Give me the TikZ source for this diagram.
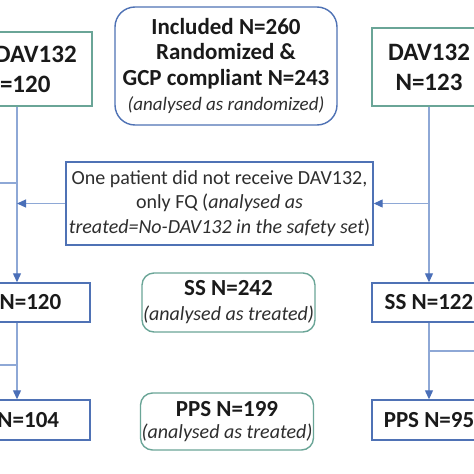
\documentclass[tikz,border=0pt]{standalone}
\usepackage{fontspec}
\setmainfont{Carlito}
\usetikzlibrary{arrows.meta}
\definecolor{bboxc}{HTML}{4F72B5}
\definecolor{gboxc}{HTML}{6AA597}
\definecolor{clinec}{HTML}{8EA8D6}
\definecolor{aheadc}{HTML}{4A6FB8}
\definecolor{txtc}{HTML}{1A1A1A}
\definecolor{itxc}{HTML}{2E2E2E}
\tikzset{
  boxb/.style={draw=bboxc, line width=1.4pt, fill=white, align=center, text=txtc, inner sep=1pt},
  boxg/.style={draw=gboxc, line width=1.4pt, fill=white, align=center, text=txtc, inner sep=1pt},
  conn/.style={draw=clinec, line width=1.2pt},
  arr/.style={conn, -{Triangle[width=8pt,length=9pt,color=aheadc]}},
  bigtxt/.style={font=\bfseries\fontsize{25}{30}\selectfont},
  midtxt/.style={font=\bfseries\fontsize{23}{26}\selectfont},
}
\begin{document}
\begin{tikzpicture}[x=1pt,y=-1pt]
\useasboundingbox (0,0) rectangle (474,474);
\clip (0,0) rectangle (474,474);
\fill[white] (0,0) rectangle (474,474);

% top row
\node[boxg, bigtxt, minimum width=150, minimum height=74] (ltop) at (17,69) {No-DAV132\\N=120};
\node[boxg, bigtxt, minimum width=114, minimum height=78] (rtop) at (429,67) {DAV132\\N=123};
\node[boxb, rounded corners=20, minimum width=222, minimum height=118,
      font=\fontsize{23}{25.5}\selectfont] (inc) at (226,66)
  {\textbf{Included N=260}\\\textbf{Randomized \&}\\\textbf{GCP compliant N=243}\\
   {\color{itxc}\fontsize{19}{25.5}\selectfont\itshape(analysed as randomized)}};

% note
\node[boxb, minimum width=307, minimum height=83, font=\fontsize{20}{24.5}\selectfont,
      text=itxc] (note) at (219.5,203.5)
  {One patient did not receive DAV132,\\only FQ (\textit{analysed as}\\\textit{treated=No-DAV132 in the safety set})};

% safety set row
\node[boxb, midtxt, minimum width=146, minimum height=39] (lss) at (17,302.5) {SS N=120};
\node[boxb, midtxt, minimum width=114, minimum height=39] (rss) at (429,302.5) {SS N=122};
\node[boxg, rounded corners=12, minimum width=171, minimum height=59,
      font=\fontsize{23}{25}\selectfont] (ss) at (228.5,302.5)
  {\textbf{SS N=242}\\{\color{itxc}\fontsize{20}{25}\selectfont\itshape(analysed as treated)}};

% per protocol row
\node[boxb, midtxt, minimum width=164, minimum height=40] (lpps) at (8,420) {PPS N=104};
\node[boxb, midtxt, minimum width=114, minimum height=40] (rpps) at (429,420) {PPS N=95};
\node[boxg, rounded corners=12, minimum width=172, minimum height=57,
      font=\fontsize{23}{22}\selectfont] (pps) at (227,421.5)
  {\textbf{PPS N=199}\\{\color{itxc}\fontsize{20}{22}\selectfont\itshape(analysed as treated)}};

% connectors
\coordinate (lx1) at (-6,183);
\coordinate (lx2) at (-6,365);
\coordinate (rx1) at (480,351);

\draw[arr] (ltop.south) -- (lss.north);
\draw[arr] (lss.south) -- (lss.south |- lpps.north);
\draw[arr] (rtop.south) -- (rss.north);
\draw[arr] (rss.south) -- (rpps.north);
\draw[conn] (lx1) -- (lx1 -| ltop.south);
\draw[conn] (lx2) -- (lx2 -| lss.south);
\draw[conn] (rss.south |- rx1) -- (rx1);
\draw[arr] (note.west) -- (note.west -| ltop.south);
\draw[arr] (note.east -| rtop.south) -- (note.east);
\end{tikzpicture}
\end{document}
